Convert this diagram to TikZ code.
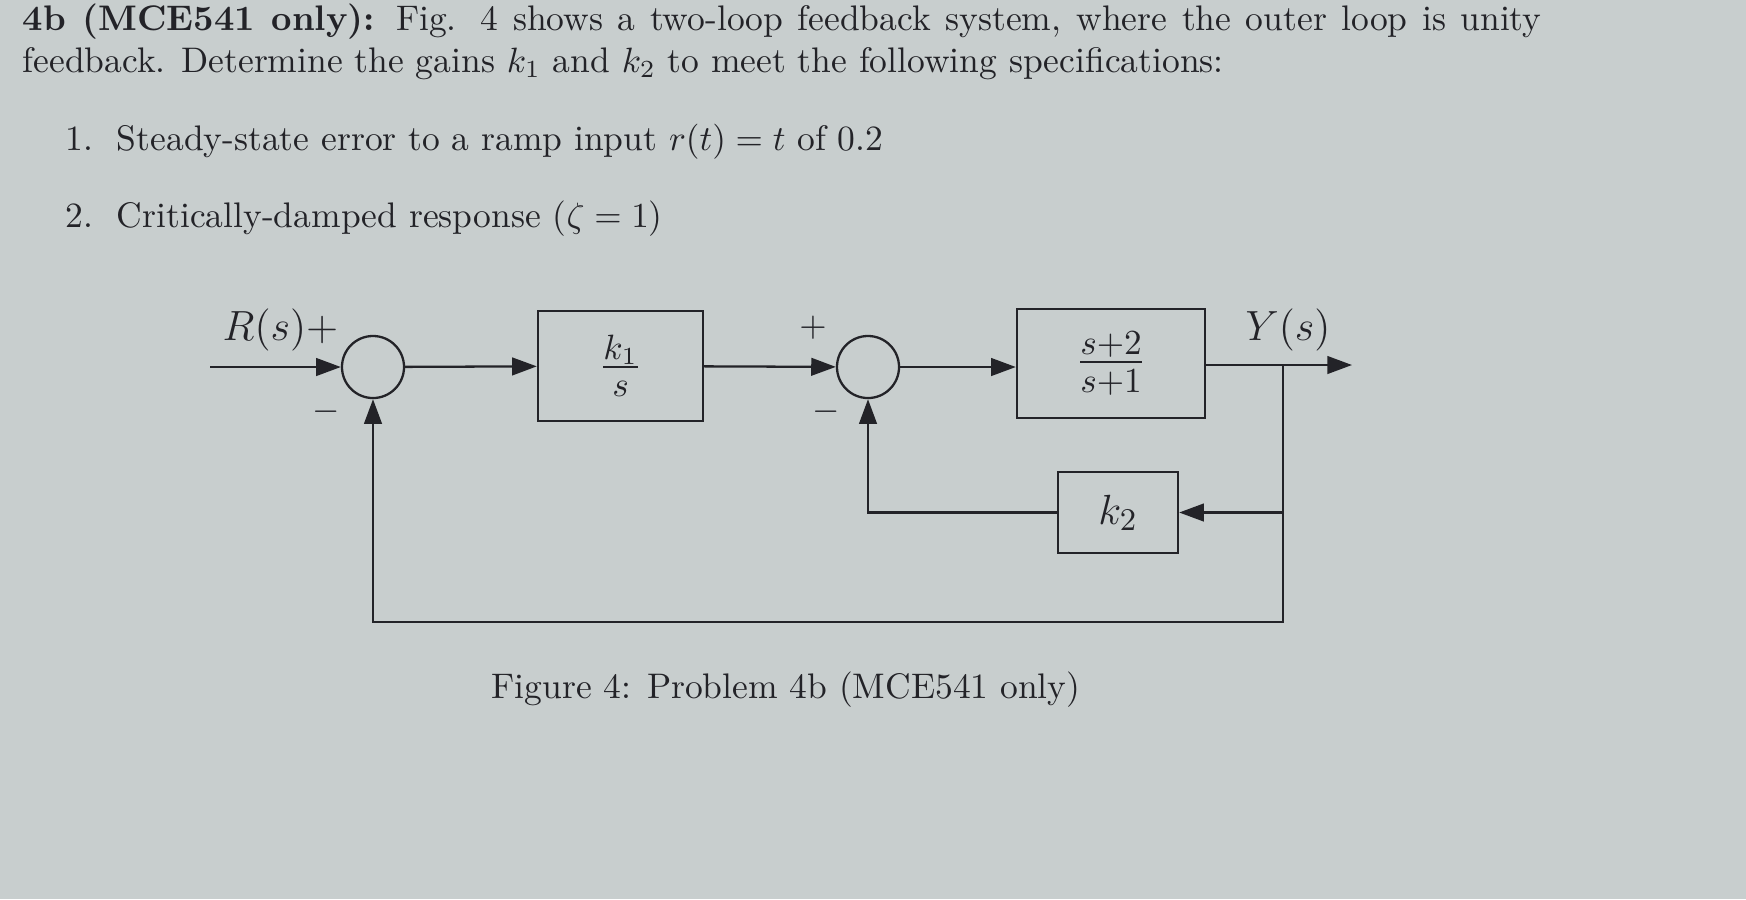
\documentclass[tikz,border=0pt]{standalone}
\usetikzlibrary{arrows.meta}
\definecolor{paper}{RGB}{200,206,206}
\definecolor{ink}{RGB}{35,35,40}
\begin{document}
\begin{tikzpicture}[x=0.01cm,y=-0.01cm,
  txt/.style={inner sep=0,text=ink,font=\fontsize{10.1}{12}\selectfont},
  blk/.style={draw=ink,line width=0.65pt,inner sep=0,text=ink,font=\fontsize{14}{16}\selectfont},
  sumc/.style={circle,draw=ink,line width=0.65pt,minimum size=0.62cm,inner sep=0},
  wire/.style={draw=ink,line width=0.65pt},
  arr/.style={wire,-{Triangle[length=7pt,width=5pt]}}]
\fill[paper] (0,0) rectangle (1746,899);
\useasboundingbox (0,0) rectangle (1746,899);
\node[txt,anchor=base west] (l1) at (22,30) {\makebox[15.18cm][s]{\textbf{4b (MCE541 only):} Fig. 4 shows a two-loop feedback system, where the outer loop is unity}};
\node[txt,anchor=base west] (l2) at (22,72) {feedback. Determine the gains $k_1$ and $k_2$ to meet the following specifications:};
\node[txt,anchor=base west] (n1) at (65,150) {1.\ \ Steady-state error to a ramp input $r(t)=t$ of 0.2};
\node[txt,anchor=base west] (n2) at (65,227) {2.\ \ Critically-damped response ($\zeta=1$)};
\node[sumc] (s1) at (373,367) {};
\node[sumc] (s2) at (868,367) {};
\node[blk,minimum width=1.65cm,minimum height=1.1cm] (b1) at (620.5,366) {$\frac{k_1}{s}$};
\node[blk,minimum width=1.88cm,minimum height=1.09cm] (b2) at (1111,363.5) {$\frac{s{+}2}{s{+}1}$};
\node[blk,minimum width=1.2cm,minimum height=0.81cm,font=\fontsize{12.5}{14}\selectfont] (b3) at (1118,512.5) {$k_2$};
\coordinate (in) at (210,367);
\coordinate (out) at (1352,365);
\coordinate (br) at (1283,365);
\coordinate (bk) at (1283,622);
\draw[arr] (in) -- (s1);
\draw[arr] (s1) -- (b1);
\draw[arr] (b1) -- (s2);
\draw[arr] (s2) -- (s2-|b2.west);
\draw[arr] (b2.east|-br) -- (out);
\draw[arr] (br) |- (b3);
\draw[arr] (b3) -| (s2);
\draw[arr] (br) -- (bk) -| (s1);
\node[txt,anchor=base west] (rs) at (222,340) {\fontsize{12.5}{14}\selectfont$R(s)+$};
\node[txt,anchor=base west] (ys) at (1245,340) {\fontsize{12.5}{14}\selectfont$Y(s)$};
\node[txt] (p2) at (813,328) {$+$};
\node[txt] (m2) at (826,412) {$-$};
\node[txt] (m1) at (326,412) {$-$};
\node[txt,anchor=base] (cap) at (786,698) {Figure 4: Problem 4b (MCE541 only)};
\end{tikzpicture}
\end{document}
